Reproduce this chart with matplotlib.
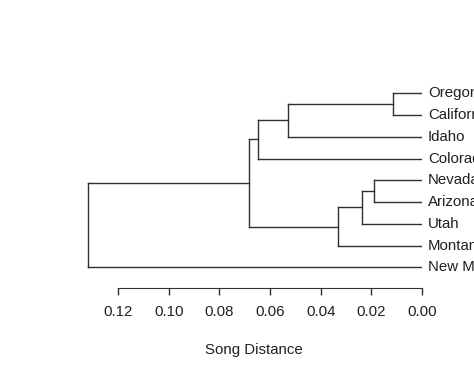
import numpy as np
import matplotlib.pyplot as plt

plt.rcParams['font.family'] = ['Liberation Sans', 'DejaVu Sans']

# leaves, top to bottom
leaves = ['Oregon', 'California', 'Idaho', 'Colorado', 'Nevada',
          'Arizona', 'Utah', 'Montana', 'New Mexico']
# merges: (left child, right child, height); negative = leaf index, positive = merge number
merges = [
    (-1, -2, 0.0116),   # 1 Oregon + California
    (-5, -6, 0.0189),   # 2 Nevada + Arizona
    (2, -7, 0.0236),    # 3 + Utah
    (3, -8, 0.0333),    # 4 + Montana
    (1, -3, 0.0530),    # 5 + Idaho
    (5, -4, 0.0649),    # 6 + Colorado
    (6, 4, 0.0683),     # 7 west + east
    (7, -9, 0.1317),    # 8 + New Mexico
]
xticks = [0.12, 0.10, 0.08, 0.06, 0.04, 0.02, 0.00]
xlabel = 'Song Distance'

n = len(leaves)
leaf_y = {i + 1: n - i for i in range(n)}  # Oregon on top

fig = plt.figure(figsize=(4.74, 3.79), dpi=100)
ax = fig.add_axes([80 / 474, 1 - 288 / 379, 342 / 474, (288 - 85) / 379])
lc = '#303030'

node = {}  # merge number -> (x, y)


def pos(c):
    if c < 0:
        return 0.0, leaf_y[-c]
    return node[c]


for k, (a, b, h) in enumerate(merges, start=1):
    xa, ya = pos(a)
    xb, yb = pos(b)
    ax.plot([xa, h], [ya, ya], color=lc, lw=1.0)
    ax.plot([xb, h], [yb, yb], color=lc, lw=1.0)
    ax.plot([h, h], [ya, yb], color=lc, lw=1.0)
    node[k] = (h, (ya + yb) / 2)

for i, name in enumerate(leaves):
    ax.text(-0.0024, leaf_y[i + 1], name, va='center', ha='left',
            fontsize=10.8, color='#202020', clip_on=False)

ax.set_xlim(0.135, 0.0)
ax.set_ylim(0.048, 9.38)
ax.set_yticks([])
for s in ['top', 'right', 'left']:
    ax.spines[s].set_visible(False)
ax.spines['bottom'].set_bounds(0.0, 0.12)
ax.spines['bottom'].set_color(lc)
ax.set_xticks(xticks)
ax.set_xticklabels(['%.2f' % v for v in xticks])
ax.tick_params(axis='x', direction='out', length=5, width=1.0, color=lc,
               pad=7, labelsize=10.8, labelcolor='#202020')

fig.text(254 / 474, 1 - 350 / 379, xlabel, ha='center', va='center',
         fontsize=10.8, color='#202020')

fig.savefig('out.png', dpi=100)
